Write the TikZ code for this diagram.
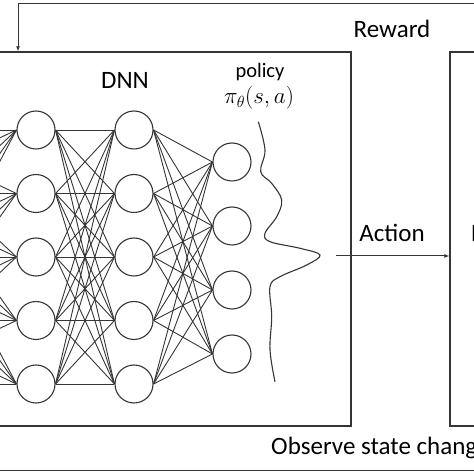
\documentclass[tikz,border=0pt]{standalone}
\usepackage{fix-cm}
\usepackage{fontspec}
\setmainfont{Carlito}
\usetikzlibrary{arrows.meta}
\definecolor{linegray}{HTML}{353535}

\begin{document}
\begin{tikzpicture}[x=1pt, y=1pt,
        neuron/.style={circle, draw=linegray, line width=1.1pt, minimum size=38pt, inner sep=0pt},
        wire/.style={draw=linegray, line width=0.9pt},
        frame/.style={draw=linegray, line width=1.2pt, inner sep=0pt},
        flow/.style={draw=linegray, line width=1pt},
        tip/.style={-{Latex[length=5pt, width=4pt]}},
        bigtext/.style={font=\fontsize{25}{29}\selectfont},
        smalltext/.style={font=\fontsize{20.5}{24}\selectfont}]

            \useasboundingbox (0,0) rectangle (474,474);
            \clip (0,0) rectangle (474,474);

            % the two boxes
            \node[frame, minimum width=361pt, minimum height=374pt] (dnnbox) at (170.5, 235) {};
            \node[frame, minimum width=150pt, minimum height=374pt] (envbox) at (525, 235) {};

            % network
            \foreach \i/\y in {1/344, 2/280.5, 3/217, 4/153.5, 5/90} {
                \coordinate (in\i) at (-118, \y);
                \node[neuron] (h\i) at (36, \y) {};
                \node[neuron] (g\i) at (134, \y) {};
            }
            \foreach \i/\y in {1/312, 2/248, 3/184, 4/120}
                \node[neuron] (p\i) at (232, \y) {};

            \foreach \a in {1,...,5} \foreach \b in {1,...,5} {
                \draw[wire] (in\a) -- (h\b.west);
                \draw[wire] (h\a.east) -- (g\b.west);
            }
            \foreach \a in {1,...,5} \foreach \b in {1,...,4}
                \draw[wire] (g\a.east) -- (p\b.west);

            % policy curve
            \draw[flow, line width=1.1pt] plot[smooth, tension=0.6] coordinates {
                (258.3, 352.3) (265, 324) (260.7, 302.3) (271.7, 290.7) (281.7, 274)
                (276.7, 257.3) (265, 240.7) (270, 232.3) (300, 225.7) (320, 219)
                (306.7, 209) (280, 197.3) (270, 187.3) (271.7, 157.3) (270, 124) (275, 92.3)};

            % labels
            \node[bigtext] (dnn) at (125, 394) {DNN};
            \node[smalltext] (policy) at (260, 402) {policy};
            \node[font=\fontsize{23}{27}\selectfont] (pi) at (259, 376) {$\pi_\theta(s,a)$};
            \node[bigtext] (reward) at (392, 445) {Reward};
            \node[bigtext] (action) at (392, 241) {Action};
            \node[bigtext, anchor=west, inner sep=0pt] (env) at (471, 241) {Environment};
            \node[bigtext, anchor=west, inner sep=0pt] (observe) at (271, 26) {Observe state change};

            % loop
            \coordinate (act) at (336, 218);
            \draw[flow, tip] (act) -- (act -| envbox.west);

            \coordinate (rw) at (18, 470);
            \draw[flow, tip] (envbox.north) |- (rw) -- (rw |- dnnbox.north);

            \coordinate (obs) at (-5, 3);
            \draw[flow, tip] (envbox.south) |- (obs) -- (obs |- dnnbox.south);
\end{tikzpicture}
\end{document}
